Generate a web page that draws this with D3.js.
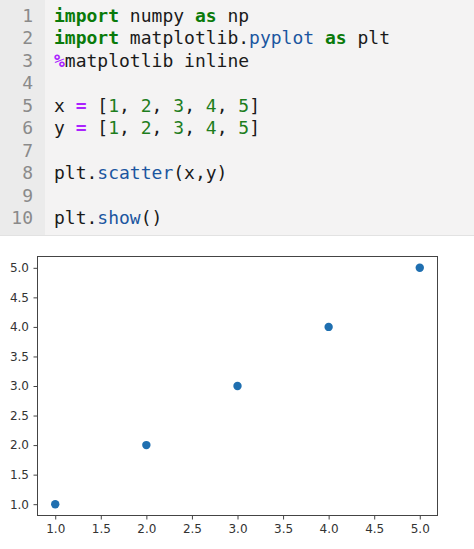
<!DOCTYPE html>
<html>
<head>
<meta charset="utf-8">
<script src="https://cdn.jsdelivr.net/npm/d3@7"></script>
<style>
  html, body { margin: 0; padding: 0; background: #fff; }
  svg { display: block; }
  .code text { font-family: "DejaVu Sans Mono", monospace; font-size: 18px; }
  .axis text { font-family: "DejaVu Sans", sans-serif; font-size: 12px; fill: #333; }
  .axis path, .axis line { stroke: #444; }
</style>
</head>
<body>
<div id="chart"></div>
<script>
// scatter data
const xValues = [1, 2, 3, 4, 5];
const yValues = [1, 2, 3, 4, 5];
const xTicks = [1.0, 1.5, 2.0, 2.5, 3.0, 3.5, 4.0, 4.5, 5.0];
const yTicks = [1.0, 1.5, 2.0, 2.5, 3.0, 3.5, 4.0, 4.5, 5.0];

// notebook cell: each line is a list of [text, style]
const codeLines = [
  [['import', 'kw'], [' numpy ', ''], ['as', 'kw'], [' np', '']],
  [['import', 'kw'], [' matplotlib.', ''], ['pyplot', 'fn'], [' ', ''], ['as', 'kw'], [' plt', '']],
  [['%', 'op'], ['matplotlib inline', '']],
  [],
  [['x ', ''], ['=', 'op'], [' [', ''], ['1', 'num'], [', ', ''], ['2', 'num'], [', ', ''], ['3', 'num'], [', ', ''], ['4', 'num'], [', ', ''], ['5', 'num'], [']', '']],
  [['y ', ''], ['=', 'op'], [' [', ''], ['1', 'num'], [', ', ''], ['2', 'num'], [', ', ''], ['3', 'num'], [', ', ''], ['4', 'num'], [', ', ''], ['5', 'num'], [']', '']],
  [],
  [['plt.', ''], ['scatter', 'fn'], ['(x,y)', '']],
  [],
  [['plt.', ''], ['show', 'fn'], ['()', '']]
];

const tokenStyle = {
  '': { fill: '#1a1a1a', weight: 'normal' },
  kw: { fill: '#0a7a0a', weight: 'bold' },
  fn: { fill: '#1b56a0', weight: 'normal' },
  op: { fill: '#aa22ff', weight: 'bold' },
  num: { fill: '#1d7d1d', weight: 'normal' }
};

const W = 474, H = 549;
const svg = d3.select('#chart').append('svg')
  .attr('width', W)
  .attr('height', H);

// ---- code cell ----
const cellH = 236, gutterW = 45, lineH = 22.55;
const code = svg.append('g').attr('class', 'code');
code.append('rect').attr('x', 0).attr('y', 0).attr('width', W).attr('height', cellH).attr('fill', '#f4f3f3');
code.append('rect').attr('x', 0).attr('y', 0).attr('width', gutterW).attr('height', cellH).attr('fill', '#ebebeb');
code.append('line').attr('x1', 0).attr('x2', W).attr('y1', cellH - 0.5).attr('y2', cellH - 0.5).attr('stroke', '#e2e2e2');

const lineY = d3.scaleLinear().domain([0, 9]).range([21.5, 21.5 + 9 * lineH]);

code.selectAll('text.lineno')
  .data(codeLines)
  .join('text')
  .attr('class', 'lineno')
  .attr('x', 33)
  .attr('y', (d, i) => lineY(i))
  .attr('text-anchor', 'end')
  .attr('fill', '#8a8a8a')
  .text((d, i) => i + 1);

code.selectAll('text.src')
  .data(codeLines)
  .join('text')
  .attr('class', 'src')
  .attr('x', 54)
  .attr('y', (d, i) => lineY(i))
  .attr('xml:space', 'preserve')
  .style('white-space', 'pre')
  .selectAll('tspan')
  .data(d => d)
  .join('tspan')
  .attr('fill', d => tokenStyle[d[1]].fill)
  .attr('font-weight', d => tokenStyle[d[1]].weight)
  .text(d => d[0]);

// ---- scatter plot ----
const margin = { top: 256, right: 36, bottom: 33, left: 37 };
const plotW = W - margin.left - margin.right;
const plotH = H - margin.top - margin.bottom;

const g = svg.append('g').attr('transform', `translate(${margin.left}, ${margin.top})`);

const xScale = d3.scaleLinear().domain([0.8, 5.2]).range([0, plotW]);
const yScale = d3.scaleLinear().domain([0.8, 5.2]).range([plotH, 0]);

const xAxis = d3.axisBottom(xScale).tickValues(xTicks).tickFormat(d3.format('.1f')).tickSize(3.5).tickPadding(5);
const yAxis = d3.axisLeft(yScale).tickValues(yTicks).tickFormat(d3.format('.1f')).tickSize(3.5).tickPadding(4.5);

g.append('g')
  .attr('class', 'axis x-axis')
  .attr('transform', `translate(0, ${plotH})`)
  .call(xAxis)
  .call(s => s.select('.domain').remove());

g.append('g')
  .attr('class', 'axis y-axis')
  .call(yAxis)
  .call(s => s.select('.domain').remove());

g.append('rect')
  .attr('x', 0.5).attr('y', 0.5)
  .attr('width', plotW - 1).attr('height', plotH - 1)
  .attr('fill', 'none')
  .attr('stroke', '#444')
  .attr('stroke-width', 1);

g.selectAll('circle.pt')
  .data(d3.zip(xValues, yValues))
  .join('circle')
  .attr('class', 'pt')
  .attr('cx', d => xScale(d[0]))
  .attr('cy', d => yScale(d[1]))
  .attr('r', 4.2)
  .attr('fill', '#1f6fb0');
</script>
</body>
</html>
